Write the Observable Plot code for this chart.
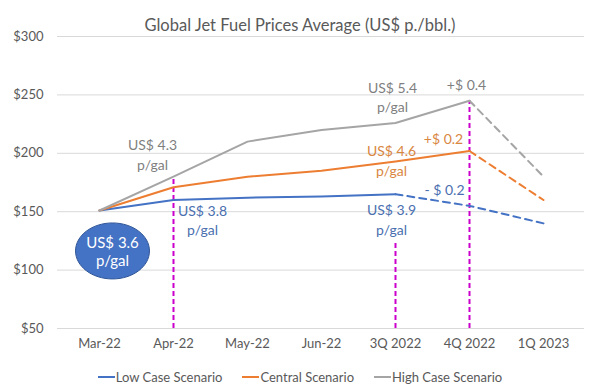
<!DOCTYPE html>
<html><head><meta charset="utf-8">
<script src="https://cdn.jsdelivr.net/npm/d3@7"></script>
<script src="https://cdn.jsdelivr.net/npm/@observablehq/plot@0.6"></script>
<style>
body{margin:0;background:#fff;font-family:Lato,"Open Sans",sans-serif;}
#wrap{width:600px;height:392px;overflow:hidden;position:relative;}
#title{position:absolute;top:15px;left:0;width:600px;line-height:20px;text-align:center;font-size:16.5px;color:#595959;white-space:nowrap;z-index:2;}
#legend{height:30px;padding-top:2px;line-height:16px;display:flex;justify-content:center;gap:20px;font-size:13px;color:#595959;}
.item{display:flex;align-items:center;}
.sw{width:17px;height:2px;margin-right:1px;}
svg{display:block;}
</style></head>
<body><div id="wrap"><div id="title"></div><div id="chart"></div><div id="legend"></div></div>
<script>
const title = "Global Jet Fuel Prices Average (US$ p./bbl.)";
const categories = ["Mar-22","Apr-22","May-22","Jun-22","3Q 2022","4Q 2022","1Q 2023"];
const seriesNames = ["Low Case Scenario","Central Scenario","High Case Scenario"];
const lowValues     = [151,160,162,163,165,155,140];
const centralValues = [151,171,180,185,193,202,160];
const highValues    = [151,180,210,220,226,245,180];
// index of last actual (solid) point; projection dashed afterwards
const lastActual = [4,5,5];
const yTicks = [50,100,150,200,250,300];
const colors = ["#4472C4","#ED7D31","#A5A5A5"];
const textColors = {grey:"#7f7f7f", orange:"#d9863f", blue:"#4a6fb0"};

// vertical marker lines: category and top value
const markerCats = ["Apr-22","3Q 2022","4Q 2022"];
const markerTops = [180,123.6,245];

// annotations anchored in data space
const noteCats  = ["Apr-22","Apr-22","3Q 2022","4Q 2022","4Q 2022","3Q 2022","4Q 2022","3Q 2022"];
const noteVals  = [199.8,143.7,249,259.8,213.5,194.7,169.9,144];
const noteTexts = ["US$ 4.3\np/gal","US$ 3.8\np/gal","US$ 5.4\np/gal","+$ 0.4","+$ 0.2","US$ 4.6\np/gal","- $ 0.2","US$ 3.9\np/gal"];
const noteTone  = ["grey","blue","grey","grey","orange","orange","blue","blue"];
const noteDx    = [-21,29,-3,-3,-26,-4,-25,-4];

// bubble callout
const bubbleCat = "Mar-22", bubbleVal = 116.4, bubbleText = "US$ 3.6\np/gal";

const allValues = [lowValues, centralValues, highValues];
const rows = allValues.flatMap((vals, s) => vals.map((v, i) => ({category: categories[i], value: v, series: seriesNames[s], i, s})));
const solid = rows.filter(d => d.i <= lastActual[d.s]);
const dashed = rows.filter(d => d.i >= lastActual[d.s]);
const markers = markerCats.map((c, k) => ({category: c, top: markerTops[k]}));
const notes = noteCats.map((c, k) => ({category: c, value: noteVals[k], text: noteTexts[k], color: textColors[noteTone[k]], dx: noteDx[k]}));

const ellipse = {draw(ctx, size) {
  const r = Math.sqrt(size / Math.PI), rx = r * 1.32, ry = r, k = 0.5523;
  ctx.moveTo(rx, 0);
  ctx.bezierCurveTo(rx, ry*k, rx*k, ry, 0, ry);
  ctx.bezierCurveTo(-rx*k, ry, -rx, ry*k, -rx, 0);
  ctx.bezierCurveTo(-rx, -ry*k, -rx*k, -ry, 0, -ry);
  ctx.bezierCurveTo(rx*k, -ry, rx, -ry*k, rx, 0);
  ctx.closePath();
}};

const color = {domain: seriesNames, range: colors};
const noteMarks = notes.map(n => Plot.text([n], {x: "category", y: "value", text: "text", fill: n.color, dx: n.dx, fontSize: 14, lineHeight: 1.4}));

const chart = Plot.plot({
  width: 600, height: 360,
  marginTop: 36, marginBottom: 32, marginLeft: 57, marginRight: 16,
  style: {fontFamily: "Lato, 'Open Sans', sans-serif", fontSize: "13px", color: "#595959", background: "white"},
  x: {type: "point", domain: categories, padding: 0.56, label: null},
  y: {domain: [50, 300], label: null},
  color,
  marks: [
    Plot.gridY(yTicks, {stroke: "#d9d9d9", strokeOpacity: 1}),
    Plot.axisY(yTicks, {tickSize: 0, tickPadding: 14, tickFormat: d => "$" + d, label: null, fill: "#595959", fontSize: 13}),
    Plot.axisX({tickSize: 0, tickPadding: 10, label: null, fill: "#595959", fontSize: 13}),
    Plot.ruleX(markers, {x: "category", y1: 50, y2: "top", stroke: "#cc00cc", strokeWidth: 2, strokeDasharray: "5,3"}),
    Plot.line(solid, {x: "category", y: "value", z: "series", stroke: "series", strokeWidth: 2}),
    Plot.line(dashed, {x: "category", y: "value", z: "series", stroke: "series", strokeWidth: 2, strokeDasharray: "7,5"}),
    Plot.dot([{category: bubbleCat, value: bubbleVal}], {x: "category", y: "value", dx: 13, r: 28, symbol: ellipse, fill: "#4472C4", stroke: "#2f5597", strokeWidth: 1}),
    Plot.text([{category: bubbleCat, value: bubbleVal, text: bubbleText}], {x: "category", y: "value", text: "text", dx: 13, fill: "white", fontSize: 15, lineHeight: 1.2}),
    ...noteMarks
  ]
});
document.getElementById("chart").appendChild(chart);
document.getElementById("title").textContent = title;
const lg = document.getElementById("legend");
seriesNames.forEach((n, k) => {
  const it = document.createElement("div"); it.className = "item";
  const sw = document.createElement("div"); sw.className = "sw"; sw.style.background = colors[k];
  const tx = document.createElement("span"); tx.textContent = n;
  it.appendChild(sw); it.appendChild(tx); lg.appendChild(it);
});
</script></body></html>
